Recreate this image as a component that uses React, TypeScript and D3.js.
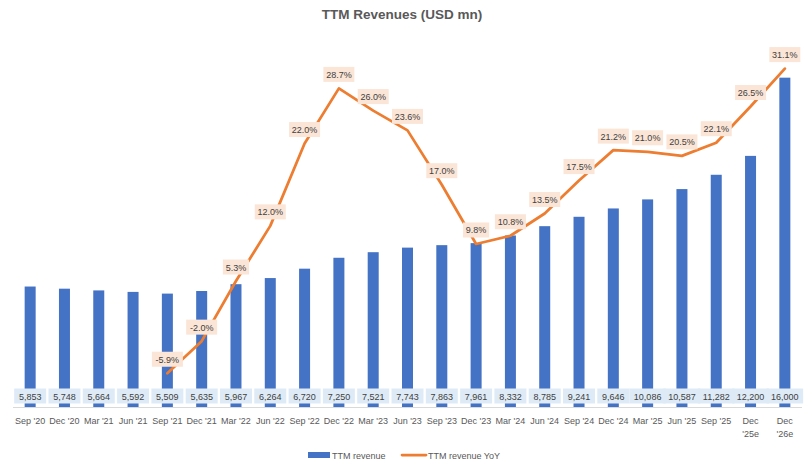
import * as d3 from "d3";
import { useEffect, useRef } from "react";

const quarters = [
  "Sep '20", "Dec '20", "Mar '21", "Jun '21", "Sep '21", "Dec '21", "Mar '22", "Jun '22",
  "Sep '22", "Dec '22", "Mar '23", "Jun '23", "Sep '23", "Dec '23", "Mar '24", "Jun '24",
  "Sep '24", "Dec '24", "Mar '25", "Jun '25", "Sep '25", "Dec '25e", "Dec '26e",
];
const revenue = [
  5853, 5748, 5664, 5592, 5509, 5635, 5967, 6264, 6720, 7250, 7521, 7743,
  7863, 7961, 8332, 8785, 9241, 9646, 10086, 10587, 11282, 12200, 16000,
];
// YoY growth only exists from the fifth quarter on
const yoy: (number | null)[] = [
  null, null, null, null, -5.9, -2.0, 5.3, 12.0, 22.0, 28.7, 26.0, 23.6,
  17.0, 9.8, 10.8, 13.5, 17.5, 21.2, 21.0, 20.5, 22.1, 26.5, 31.1,
];
const revenueDomain = [0, 18000];
const yoyDomain = [-10, 35];

const FONT = "'Liberation Sans', Arial, sans-serif";

export default function App() {
  const ref = useRef<SVGSVGElement | null>(null);

  useEffect(() => {
    const svg = d3.select(ref.current);
    svg.selectAll("*").remove();

    const width = 808;
    const height = 468;
    const top = 36.5;
    const bottom = 407;

    const x = d3.scaleBand().domain(quarters).range([13, 802]).padding(0);
    const cx = (q: string) => (x(q) as number) + x.bandwidth() / 2;
    const y = d3.scaleLinear().domain(revenueDomain).range([bottom, top]);
    const y2 = d3.scaleLinear().domain(yoyDomain).range([bottom, top]);

    svg.attr("viewBox", `0 0 ${width} ${height}`);

    svg
      .append("text")
      .attr("x", 402)
      .attr("y", 19)
      .attr("text-anchor", "middle")
      .attr("font-family", FONT)
      .attr("font-size", 13.5)
      .attr("font-weight", "bold")
      .attr("fill", "#595959")
      .text("TTM Revenues (USD mn)");

    const barW = 11;
    svg
      .append("g")
      .selectAll("rect")
      .data(revenue)
      .enter()
      .append("rect")
      .attr("x", (_d, i) => cx(quarters[i]) - barW / 2)
      .attr("y", (d) => y(d))
      .attr("width", barW)
      .attr("height", (d) => bottom - y(d))
      .attr("fill", "#4472C4");

    // axis baseline
    svg
      .append("line")
      .attr("x1", 13)
      .attr("x2", 802)
      .attr("y1", bottom + 0.5)
      .attr("y2", bottom + 0.5)
      .attr("stroke", "#D9D9D9")
      .attr("stroke-width", 1);

    // value labels at the base of each bar
    const fmt = d3.format(",");
    const vl = svg.append("g");
    revenue.forEach((v, i) => {
      const t = fmt(v);
      const w = t.length * 4.6 + 9;
      vl.append("rect")
        .attr("x", cx(quarters[i]) - w / 2)
        .attr("y", 388.5)
        .attr("width", w)
        .attr("height", 15)
        .attr("fill", "#DEEBF7");
    });
    revenue.forEach((v, i) => {
      vl.append("text")
        .attr("x", cx(quarters[i]))
        .attr("y", 399.5)
        .attr("text-anchor", "middle")
        .attr("font-family", FONT)
        .attr("font-size", 9)
        .attr("fill", "#404040")
        .text(fmt(v));
    });

    // x tick labels, wrapped when wider than the band
    const xl = svg.append("g");
    quarters.forEach((q) => {
      const t = xl
        .append("text")
        .attr("x", cx(q))
        .attr("y", 424)
        .attr("text-anchor", "middle")
        .attr("font-family", FONT)
        .attr("font-size", 9)
        .attr("fill", "#595959");
      if (q.length > 7) {
        const [a, b] = q.split(" ");
        t.append("tspan").attr("x", cx(q)).text(a);
        t.append("tspan").attr("x", cx(q)).attr("dy", 12.5).text(b);
      } else {
        t.text(q);
      }
    });

    // YoY line
    const pts = quarters
      .map((q, i) => ({ q, v: yoy[i] }))
      .filter((d) => d.v !== null) as { q: string; v: number }[];
    const line = d3
      .line<{ q: string; v: number }>()
      .x((d) => cx(d.q))
      .y((d) => y2(d.v));
    svg
      .append("path")
      .datum(pts)
      .attr("d", line)
      .attr("fill", "none")
      .attr("stroke", "#ED7D31")
      .attr("stroke-width", 2.75)
      .attr("stroke-linejoin", "round")
      .attr("stroke-linecap", "round");

    const ll = svg.append("g");
    pts.forEach((d) => {
      const t = d.v.toFixed(1) + "%";
      const w = t.length * 4.8 + 7;
      const yc = y2(d.v) - 14;
      ll.append("rect")
        .attr("x", cx(d.q) - w / 2)
        .attr("y", yc - 7.5)
        .attr("width", w)
        .attr("height", 15)
        .attr("fill", "#FBE5D6");
      ll.append("text")
        .attr("x", cx(d.q))
        .attr("y", yc + 3.5)
        .attr("text-anchor", "middle")
        .attr("font-family", FONT)
        .attr("font-size", 9)
        .attr("fill", "#404040")
        .text(t);
    });

    // legend
    const lg = svg.append("g").attr("font-family", FONT).attr("font-size", 9).attr("fill", "#595959");
    lg.append("rect").attr("x", 308).attr("y", 452).attr("width", 22).attr("height", 6).attr("fill", "#4472C4");
    lg.append("text").attr("x", 332).attr("y", 458.5).text("TTM revenue");
    lg.append("line")
      .attr("x1", 402).attr("x2", 426).attr("y1", 455).attr("y2", 455)
      .attr("stroke", "#ED7D31").attr("stroke-width", 2.75).attr("stroke-linecap", "round");
    lg.append("text").attr("x", 428).attr("y", 458.5).text("TTM revenue YoY");
  }, []);

  return (
    <svg
      ref={ref}
      width={808}
      height={468}
      style={{ position: "absolute", left: 0, top: 0, display: "block", background: "#fff" }}
    />
  );
}
